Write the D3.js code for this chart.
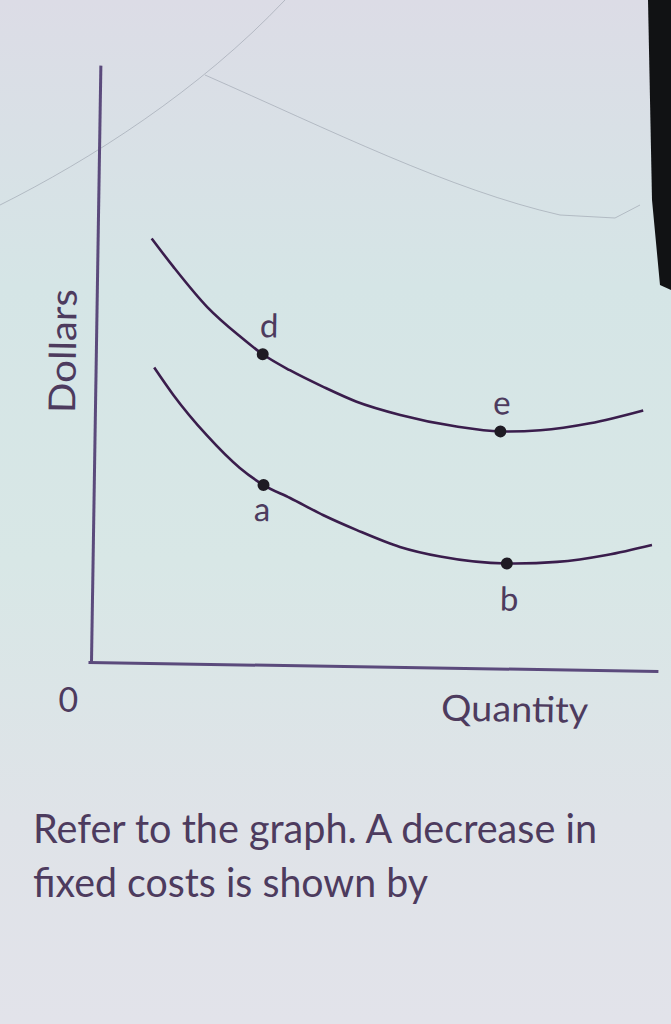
<!DOCTYPE html>
<html>
<head>
<meta charset="utf-8">
<script src="https://cdn.jsdelivr.net/npm/d3@7"></script>
<style>
  body { margin: 0; background: #dfe2e8; }
  svg { display: block; }
</style>
</head>
<body>
<div id="c1"></div>
<script>
// Variables
var w = 671;
var h = 1024;
var corner = [88, 662];   // where the axes meet
var axisW = 570;
var axisH = 597;
var tilt = 0.9;           // the photo is taken a little crooked

// upper cost curve (through d and e)
var qUpper = [10.0, 13.9, 19.9, 25.8, 29.8, 34.6, 40.5, 46.4, 54.1, 64.0, 71.7, 78.7, 87.4, 96.7];
var dUpper = [71.1, 66.4, 59.8, 54.9, 52.0, 49.4, 46.7, 44.3, 42.2, 40.4, 39.7, 40.0, 41.3, 43.6];
// lower cost curve (through a and b)
var qLower = [10.8, 14.2, 20.2, 26.1, 30.3, 35.0, 40.9, 46.8, 54.4, 61.5, 73.2, 82.0, 90.7, 98.6];
var dLower = [49.5, 45.0, 38.3, 32.9, 30.1, 28.0, 25.2, 22.8, 20.1, 18.6, 17.6, 18.0, 19.3, 21.1];

// labelled points
var pointNames = ["d", "e", "a", "b"];
var pointQ = [29.8, 71.7, 30.3, 73.2];
var pointD = [52.0, 39.7, 30.1, 17.6];

var question = ["Refer to the graph. A decrease in", "fixed costs is shown by"];

var ink = "#4d3b5e";
var curveInk = "#3a1d4c";

var svg = d3.select("#c1").append("svg")
    .attr("width", w)
    .attr("height", h);

// screen background, slightly cyan in the middle
var defs = svg.append("defs");
var grad = defs.append("linearGradient")
    .attr("id", "bg")
    .attr("x1", 0).attr("y1", 0).attr("x2", 0).attr("y2", 1);
grad.append("stop").attr("offset", "0%").attr("stop-color", "#dcdce6");
grad.append("stop").attr("offset", "28%").attr("stop-color", "#d5e5e6");
grad.append("stop").attr("offset", "55%").attr("stop-color", "#d8e7e6");
grad.append("stop").attr("offset", "80%").attr("stop-color", "#dfe3e8");
grad.append("stop").attr("offset", "100%").attr("stop-color", "#e2e3ea");
svg.append("rect").attr("width", w).attr("height", h).attr("fill", "url(#bg)");

// faint cracks in the glass
svg.append("path")
    .attr("d", "M0,205 C90,160 200,90 285,0")
    .attr("fill", "none").attr("stroke", "#9aa0ab").attr("stroke-width", 1).attr("opacity", 0.6);
svg.append("path")
    .attr("d", "M205,75 C330,130 450,190 560,215 L615,218 L640,205")
    .attr("fill", "none").attr("stroke", "#9aa0ab").attr("stroke-width", 1).attr("opacity", 0.6);

// dark phone edge on the right
svg.append("path")
    .attr("d", "M648,0 L671,0 L671,290 L660,285 L652,200 Z")
    .attr("fill", "#111214");

var x = d3.scaleLinear().domain([0, 100]).range([0, axisW]);
var y = d3.scaleLinear().domain([0, 100]).range([0, -axisH]);

var g = svg.append("g")
    .attr("transform", "rotate(" + tilt + "," + corner[0] + "," + corner[1] + ") translate(" + corner[0] + "," + corner[1] + ")");

// axes, no ticks
g.append("g").call(d3.axisBottom(x).ticks(0).tickSizeOuter(0));
g.append("g").attr("transform", "translate(3,0)")
    .call(d3.axisLeft(y).ticks(0).tickSizeOuter(0));
g.selectAll(".domain")
    .attr("stroke", "#5b4a7c")
    .attr("stroke-width", 3);

var line = d3.line()
    .x(function (d) { return x(d[0]); })
    .y(function (d) { return y(d[1]); })
    .curve(d3.curveMonotoneX);

var curves = [d3.zip(qUpper, dUpper), d3.zip(qLower, dLower)];
g.selectAll("path.cost")
    .data(curves)
    .enter()
    .append("path")
    .attr("class", "cost")
    .attr("d", line)
    .attr("fill", "none")
    .attr("stroke", curveInk)
    .attr("stroke-width", 2.6);

var pts = pointNames.map(function (n, i) {
    return { name: n, q: pointQ[i], v: pointD[i] };
});
// label offsets (px): above for d, e and below for a, b
var labelDx = [6, 1, -1, 3];
var labelDy = [-17, -17, 36, 47];

g.selectAll("circle.pt")
    .data(pts)
    .enter()
    .append("circle")
    .attr("class", "pt")
    .attr("cx", function (d) { return x(d.q); })
    .attr("cy", function (d) { return y(d.v); })
    .attr("r", 6)
    .attr("fill", "#1f1b24");

g.selectAll("text.lbl")
    .data(pts)
    .enter()
    .append("text")
    .attr("class", "lbl")
    .attr("x", function (d, i) { return x(d.q) + labelDx[i]; })
    .attr("y", function (d, i) { return y(d.v) + labelDy[i]; })
    .attr("text-anchor", "middle")
    .attr("font-family", "Lato, 'Open Sans', sans-serif")
    .attr("font-size", 33)
    .attr("fill", ink)
    .text(function (d) { return d.name; });

// axis texts
g.append("text")
    .attr("x", -19).attr("y", 50)
    .attr("text-anchor", "middle")
    .attr("font-family", "Lato, 'Open Sans', sans-serif")
    .attr("font-size", 34)
    .attr("fill", ink)
    .text("0");

g.append("text")
    .attr("x", x(75)).attr("y", 53)
    .attr("text-anchor", "middle")
    .attr("font-family", "Lato, 'Open Sans', sans-serif")
    .attr("font-size", 36)
    .attr("textLength", 147)
    .attr("lengthAdjust", "spacingAndGlyphs")
    .attr("fill", ink)
    .text("Quantity");

g.append("text")
    .attr("transform", "translate(-17," + y(52) + ") rotate(-90)")
    .attr("text-anchor", "middle")
    .attr("font-family", "Lato, 'Open Sans', sans-serif")
    .attr("font-size", 37)
    .attr("textLength", 124)
    .attr("lengthAdjust", "spacingAndGlyphs")
    .attr("fill", ink)
    .text("Dollars");

// question under the graph
var qLen = [564, 395];
svg.selectAll("text.q")
    .data(question)
    .enter()
    .append("text")
    .attr("class", "q")
    .attr("x", 33)
    .attr("y", function (d, i) { return 843 + i * 54; })
    .attr("font-family", "Lato, 'Open Sans', sans-serif")
    .attr("font-size", 40)
    .attr("textLength", function (d, i) { return qLen[i]; })
    .attr("lengthAdjust", "spacingAndGlyphs")
    .attr("fill", ink)
    .text(function (d) { return d; });
</script>
</body>
</html>
